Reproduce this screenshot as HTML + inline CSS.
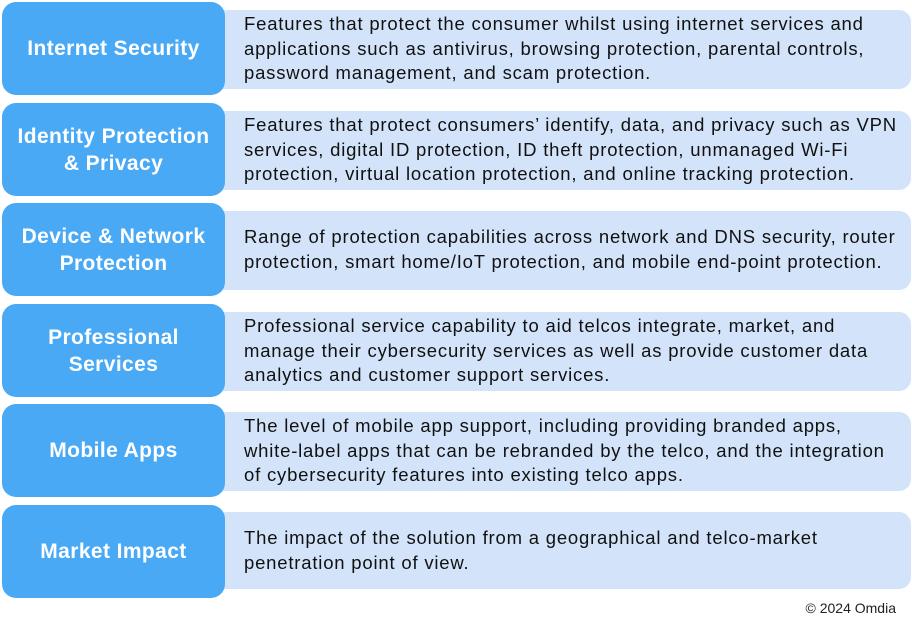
<!DOCTYPE html>
<html><head><meta charset="utf-8"><style>
body{margin:0;width:912px;height:630px;background:#fff;position:relative;font-family:"Liberation Sans",sans-serif;overflow:hidden}
.b{position:absolute;left:2px;width:223px;height:93px;background:#4aa9f5;border-radius:14px;color:#fff;font-weight:bold;font-size:21px;display:flex;align-items:center;justify-content:center;text-align:center;line-height:27px;z-index:2;letter-spacing:0.4px}
.l{position:absolute;left:215px;width:696px;height:79px;background:#d3e4fa;border-radius:0 12px 12px 0;z-index:1}
.t{position:absolute;left:244px;font-size:18.5px;line-height:24.5px;color:#111;white-space:nowrap;z-index:3;letter-spacing:0.8px}
.c{position:absolute;right:16px;top:600px;font-size:14px;color:#222}
</style></head><body>
<div class="b" style="top:2px">Internet Security</div>
<div class="l" style="top:10px"></div>
<div class="t" style="top:12px">Features that protect the consumer whilst using internet services and<br>applications such as antivirus, browsing protection, parental controls,<br>password management, and scam protection.</div>

<div class="b" style="top:103px">Identity Protection<br>&amp; Privacy</div>
<div class="l" style="top:111px"></div>
<div class="t" style="top:113px">Features that protect consumers’ identify, data, and privacy such as VPN<br>services, digital ID protection, ID theft protection, unmanaged Wi-Fi<br>protection, virtual location protection, and online tracking protection.</div>

<div class="b" style="top:203px">Device &amp; Network<br>Protection</div>
<div class="l" style="top:211px"></div>
<div class="t" style="top:225px">Range of protection capabilities across network and DNS security, router<br>protection, smart home/IoT protection, and mobile end-point protection.</div>

<div class="b" style="top:304px">Professional<br>Services</div>
<div class="l" style="top:312px"></div>
<div class="t" style="top:314px">Professional service capability to aid telcos integrate, market, and<br>manage their cybersecurity services as well as provide customer data<br>analytics and customer support services.</div>

<div class="b" style="top:404px">Mobile Apps</div>
<div class="l" style="top:412px"></div>
<div class="t" style="top:414px">The level of mobile app support, including providing branded apps,<br>white-label apps that can be rebranded by the telco, and the integration<br>of cybersecurity features into existing telco apps.</div>

<div class="b" style="top:505px">Market Impact</div>
<div class="l" style="top:512px;height:77px"></div>
<div class="t" style="top:526px">The impact of the solution from a geographical and telco-market<br>penetration point of view.</div>

<div class="c">© 2024 Omdia</div>
</body></html>
